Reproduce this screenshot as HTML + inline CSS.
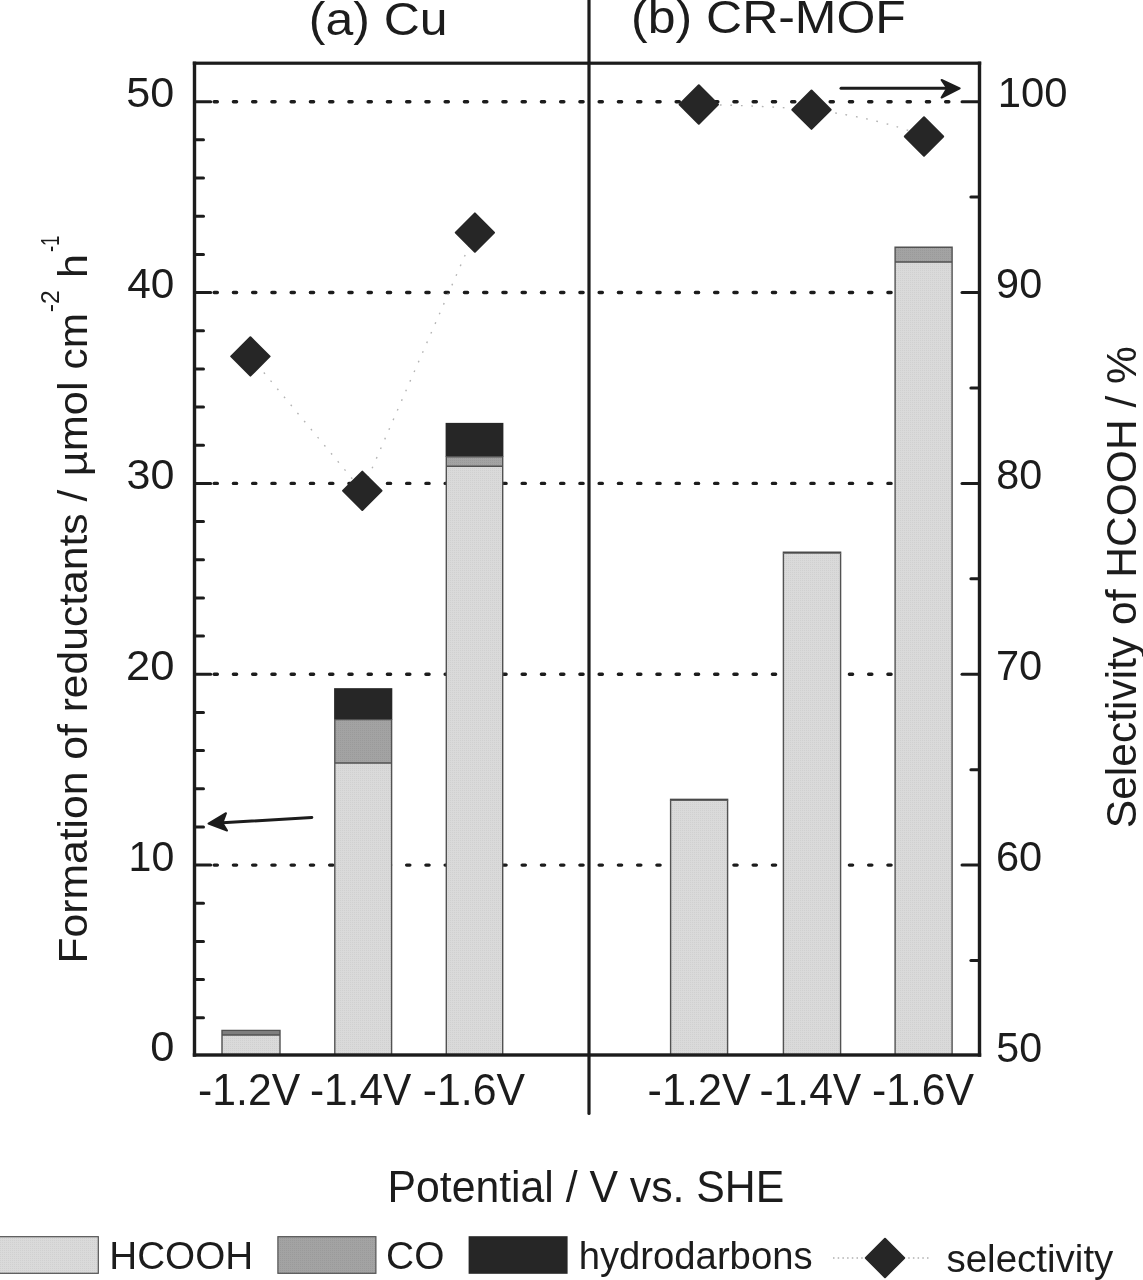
<!DOCTYPE html>
<html lang="en">
<head>
<meta charset="utf-8">
<title>Formation of reductants and selectivity of HCOOH: (a) Cu, (b) CR-MOF</title>
<style>
html,body{margin:0;padding:0;background:#fff;}
body{width:1143px;height:1280px;overflow:hidden;font-family:"Liberation Sans", Arial, Helvetica, sans-serif;}
svg{display:block;}
</style>
</head>
<body>
<svg width="1143" height="1280" viewBox="0 0 1143 1280">
<rect width="1143" height="1280" fill="#ffffff"/>
<defs>
<pattern id="pl" width="2" height="2" patternUnits="userSpaceOnUse"><rect width="2" height="2" fill="#dadada"/><rect width="1" height="1" fill="#d0d0d0"/></pattern>
<pattern id="pm" width="2" height="2" patternUnits="userSpaceOnUse"><rect width="2" height="2" fill="#a3a3a3"/><rect width="1" height="1" fill="#9a9a9a"/></pattern>
</defs>
<line x1="214.15" y1="865.10" x2="962.00" y2="865.10" stroke="#1c1c1c" stroke-width="3.4" stroke-linecap="round" stroke-dasharray="3.2 16.05"/>
<line x1="214.15" y1="674.25" x2="962.00" y2="674.25" stroke="#1c1c1c" stroke-width="3.4" stroke-linecap="round" stroke-dasharray="3.2 16.05"/>
<line x1="214.15" y1="483.40" x2="962.00" y2="483.40" stroke="#1c1c1c" stroke-width="3.4" stroke-linecap="round" stroke-dasharray="3.2 16.05"/>
<line x1="214.15" y1="292.55" x2="962.00" y2="292.55" stroke="#1c1c1c" stroke-width="3.4" stroke-linecap="round" stroke-dasharray="3.2 16.05"/>
<line x1="214.15" y1="101.70" x2="962.00" y2="101.70" stroke="#1c1c1c" stroke-width="3.4" stroke-linecap="round" stroke-dasharray="3.2 16.05"/>
<rect x="222.00" y="1034.96" width="58.00" height="20.99" fill="url(#pl)"/>
<rect x="222.00" y="1030.38" width="58.00" height="4.58" fill="#7e7e7e"/>
<path d="M222.00 1055.00 V1030.38 H280.00 V1055.00 M222.00 1034.96 H280.00" fill="none" stroke="#525252" stroke-width="1.4"/>
<rect x="334.80" y="763.00" width="56.80" height="292.95" fill="url(#pl)"/>
<rect x="334.80" y="719.67" width="56.80" height="43.32" fill="url(#pm)"/>
<rect x="334.10" y="688.16" width="58.20" height="31.51" fill="#262626"/>
<path d="M334.80 1055.00 V719.67 H391.60 V1055.00 M334.80 763.00 H391.60" fill="none" stroke="#525252" stroke-width="1.4"/>
<rect x="446.30" y="466.22" width="56.40" height="589.73" fill="url(#pl)"/>
<rect x="446.30" y="456.68" width="56.40" height="9.54" fill="url(#pm)"/>
<rect x="445.60" y="422.88" width="57.80" height="33.80" fill="#262626"/>
<path d="M446.30 1055.00 V456.68 H502.70 V1055.00 M446.30 466.22 H502.70" fill="none" stroke="#525252" stroke-width="1.4"/>
<rect x="670.60" y="800.59" width="57.00" height="255.36" fill="url(#pl)"/>
<rect x="669.90" y="798.66" width="58.40" height="2.2" fill="#4a4a4a"/>
<path d="M670.60 1055.00 V800.59 M727.60 800.59 V1055.00" fill="none" stroke="#525252" stroke-width="1.4"/>
<rect x="783.40" y="553.44" width="57.20" height="502.51" fill="url(#pl)"/>
<rect x="782.70" y="551.51" width="58.60" height="2.2" fill="#4a4a4a"/>
<path d="M783.40 1055.00 V553.44 M840.60 553.44 V1055.00" fill="none" stroke="#525252" stroke-width="1.4"/>
<rect x="895.10" y="262.01" width="57.00" height="793.94" fill="url(#pl)"/>
<rect x="895.10" y="247.32" width="57.00" height="14.70" fill="url(#pm)"/>
<path d="M895.10 1055.00 V247.32 H952.10 V1055.00 M895.10 262.01 H952.10" fill="none" stroke="#525252" stroke-width="1.4"/>
<polyline points="250.4,356.4 362.3,490.8 474.9,232.6" stroke="#b4b4b4" stroke-width="1.4" stroke-dasharray="1.7 8.8" fill="none"/>
<path d="M698.8 104.5 Q760 105.5 811.5 109.7 Q880 118 924 136.5" stroke="#b4b4b4" stroke-width="1.4" stroke-dasharray="1.7 8.8" fill="none"/>
<rect x="192.80" y="61.60" width="788.40" height="3.20" fill="#1c1c1c"/>
<rect x="192.80" y="1053.30" width="788.40" height="3.40" fill="#1c1c1c"/>
<rect x="192.80" y="61.60" width="3.40" height="995.10" fill="#1c1c1c"/>
<rect x="977.80" y="61.60" width="3.40" height="995.10" fill="#1c1c1c"/>
<line x1="589.00" y1="-2" x2="589.00" y2="1113.5" stroke="#1c1c1c" stroke-width="3.2" stroke-linecap="round"/>
<line x1="194.50" y1="1017.78" x2="203.50" y2="1017.78" stroke="#1c1c1c" stroke-width="3" stroke-linecap="round"/>
<line x1="194.50" y1="979.61" x2="203.50" y2="979.61" stroke="#1c1c1c" stroke-width="3" stroke-linecap="round"/>
<line x1="194.50" y1="941.44" x2="203.50" y2="941.44" stroke="#1c1c1c" stroke-width="3" stroke-linecap="round"/>
<line x1="194.50" y1="903.27" x2="203.50" y2="903.27" stroke="#1c1c1c" stroke-width="3" stroke-linecap="round"/>
<line x1="194.50" y1="865.10" x2="210.70" y2="865.10" stroke="#1c1c1c" stroke-width="3" stroke-linecap="round"/>
<line x1="194.50" y1="826.93" x2="203.50" y2="826.93" stroke="#1c1c1c" stroke-width="3" stroke-linecap="round"/>
<line x1="194.50" y1="788.76" x2="203.50" y2="788.76" stroke="#1c1c1c" stroke-width="3" stroke-linecap="round"/>
<line x1="194.50" y1="750.59" x2="203.50" y2="750.59" stroke="#1c1c1c" stroke-width="3" stroke-linecap="round"/>
<line x1="194.50" y1="712.42" x2="203.50" y2="712.42" stroke="#1c1c1c" stroke-width="3" stroke-linecap="round"/>
<line x1="194.50" y1="674.25" x2="210.70" y2="674.25" stroke="#1c1c1c" stroke-width="3" stroke-linecap="round"/>
<line x1="194.50" y1="636.08" x2="203.50" y2="636.08" stroke="#1c1c1c" stroke-width="3" stroke-linecap="round"/>
<line x1="194.50" y1="597.91" x2="203.50" y2="597.91" stroke="#1c1c1c" stroke-width="3" stroke-linecap="round"/>
<line x1="194.50" y1="559.74" x2="203.50" y2="559.74" stroke="#1c1c1c" stroke-width="3" stroke-linecap="round"/>
<line x1="194.50" y1="521.57" x2="203.50" y2="521.57" stroke="#1c1c1c" stroke-width="3" stroke-linecap="round"/>
<line x1="194.50" y1="483.40" x2="210.70" y2="483.40" stroke="#1c1c1c" stroke-width="3" stroke-linecap="round"/>
<line x1="194.50" y1="445.23" x2="203.50" y2="445.23" stroke="#1c1c1c" stroke-width="3" stroke-linecap="round"/>
<line x1="194.50" y1="407.06" x2="203.50" y2="407.06" stroke="#1c1c1c" stroke-width="3" stroke-linecap="round"/>
<line x1="194.50" y1="368.89" x2="203.50" y2="368.89" stroke="#1c1c1c" stroke-width="3" stroke-linecap="round"/>
<line x1="194.50" y1="330.72" x2="203.50" y2="330.72" stroke="#1c1c1c" stroke-width="3" stroke-linecap="round"/>
<line x1="194.50" y1="292.55" x2="210.70" y2="292.55" stroke="#1c1c1c" stroke-width="3" stroke-linecap="round"/>
<line x1="194.50" y1="254.38" x2="203.50" y2="254.38" stroke="#1c1c1c" stroke-width="3" stroke-linecap="round"/>
<line x1="194.50" y1="216.21" x2="203.50" y2="216.21" stroke="#1c1c1c" stroke-width="3" stroke-linecap="round"/>
<line x1="194.50" y1="178.04" x2="203.50" y2="178.04" stroke="#1c1c1c" stroke-width="3" stroke-linecap="round"/>
<line x1="194.50" y1="139.87" x2="203.50" y2="139.87" stroke="#1c1c1c" stroke-width="3" stroke-linecap="round"/>
<line x1="194.50" y1="101.70" x2="210.70" y2="101.70" stroke="#1c1c1c" stroke-width="3" stroke-linecap="round"/>
<line x1="979.50" y1="960.53" x2="970.90" y2="960.53" stroke="#1c1c1c" stroke-width="3" stroke-linecap="round"/>
<line x1="979.50" y1="865.10" x2="962.00" y2="865.10" stroke="#1c1c1c" stroke-width="3" stroke-linecap="round"/>
<line x1="979.50" y1="769.68" x2="970.90" y2="769.68" stroke="#1c1c1c" stroke-width="3" stroke-linecap="round"/>
<line x1="979.50" y1="674.25" x2="962.00" y2="674.25" stroke="#1c1c1c" stroke-width="3" stroke-linecap="round"/>
<line x1="979.50" y1="578.83" x2="970.90" y2="578.83" stroke="#1c1c1c" stroke-width="3" stroke-linecap="round"/>
<line x1="979.50" y1="483.40" x2="962.00" y2="483.40" stroke="#1c1c1c" stroke-width="3" stroke-linecap="round"/>
<line x1="979.50" y1="387.98" x2="970.90" y2="387.98" stroke="#1c1c1c" stroke-width="3" stroke-linecap="round"/>
<line x1="979.50" y1="292.55" x2="962.00" y2="292.55" stroke="#1c1c1c" stroke-width="3" stroke-linecap="round"/>
<line x1="979.50" y1="197.12" x2="970.90" y2="197.12" stroke="#1c1c1c" stroke-width="3" stroke-linecap="round"/>
<line x1="979.50" y1="101.70" x2="962.00" y2="101.70" stroke="#1c1c1c" stroke-width="3" stroke-linecap="round"/>
<line x1="833" y1="1258" x2="929.5" y2="1258" stroke="#b0b0b0" stroke-width="1.3" stroke-dasharray="1.5 3.2"/>
<path d="M250.40 337.20 L269.60 356.40 L250.40 375.60 L231.20 356.40Z" fill="#262626" stroke="#262626" stroke-width="2" stroke-linejoin="round"/>
<path d="M362.30 471.60 L381.50 490.80 L362.30 510.00 L343.10 490.80Z" fill="#262626" stroke="#262626" stroke-width="2" stroke-linejoin="round"/>
<path d="M474.90 213.40 L494.10 232.60 L474.90 251.80 L455.70 232.60Z" fill="#262626" stroke="#262626" stroke-width="2" stroke-linejoin="round"/>
<path d="M698.80 85.30 L718.00 104.50 L698.80 123.70 L679.60 104.50Z" fill="#262626" stroke="#262626" stroke-width="2" stroke-linejoin="round"/>
<path d="M811.50 90.50 L830.70 109.70 L811.50 128.90 L792.30 109.70Z" fill="#262626" stroke="#262626" stroke-width="2" stroke-linejoin="round"/>
<path d="M924.00 117.30 L943.20 136.50 L924.00 155.70 L904.80 136.50Z" fill="#262626" stroke="#262626" stroke-width="2" stroke-linejoin="round"/>
<path d="M885.00 1238.80 L904.20 1258.00 L885.00 1277.20 L865.80 1258.00Z" fill="#262626" stroke="#262626" stroke-width="2" stroke-linejoin="round"/>
<g stroke="#1c1c1c" stroke-width="3" fill="#1c1c1c" stroke-linecap="round" stroke-linejoin="round">
<line x1="841" y1="88.3" x2="955" y2="88.3"/>
<path d="M959.7 88.3 L941.6 80.0 L947.2 88.3 L941.6 97.6Z" stroke-width="2"/>
<line x1="311.8" y1="817.4" x2="214" y2="823.3"/>
<path d="M208.5 823.6 L226.0 813.2 L222.4 822.9 L227.0 830.6Z" stroke-width="2"/>
</g>
<rect x="-1" y="1236.7" width="99.3" height="36.6" fill="url(#pl)" stroke="#525252" stroke-width="1.2"/>
<rect x="277.9" y="1236.7" width="98" height="36.6" fill="url(#pm)" stroke="#525252" stroke-width="1.2"/>
<rect x="468.6" y="1236.2" width="99" height="37.6" fill="#262626"/>
<g font-family='"Liberation Sans", Arial, Helvetica, sans-serif'>
<text transform="matrix(1.0630 0 0 1 308.80 34.80)" font-size="47.00" fill="#1c1c1c">(a) Cu</text>
<text transform="matrix(1.0636 0 0 1 631.10 32.90)" font-size="47.00" fill="#1c1c1c">(b) CR-MOF</text>
<text transform="matrix(1.0146 0 0 1 150.21 1061.45)" font-size="42.80" fill="#1c1c1c">0</text>
<text transform="matrix(0.9599 0 0 1 128.58 870.60)" font-size="42.80" fill="#1c1c1c">10</text>
<text transform="matrix(1.0176 0 0 1 125.92 679.75)" font-size="42.80" fill="#1c1c1c">20</text>
<text transform="matrix(1.0058 0 0 1 126.46 488.90)" font-size="42.80" fill="#1c1c1c">30</text>
<text transform="matrix(0.9905 0 0 1 127.17 298.05)" font-size="42.80" fill="#1c1c1c">40</text>
<text transform="matrix(1.0078 0 0 1 126.37 107.20)" font-size="42.80" fill="#1c1c1c">50</text>
<text transform="matrix(0.9626 0 0 1 996.35 1061.65)" font-size="42.80" fill="#1c1c1c">50</text>
<text transform="matrix(0.9720 0 0 1 995.92 870.80)" font-size="42.80" fill="#1c1c1c">60</text>
<text transform="matrix(0.9729 0 0 1 995.88 679.95)" font-size="42.80" fill="#1c1c1c">70</text>
<text transform="matrix(0.9654 0 0 1 996.22 489.10)" font-size="42.80" fill="#1c1c1c">80</text>
<text transform="matrix(0.9682 0 0 1 996.09 298.25)" font-size="42.80" fill="#1c1c1c">90</text>
<text transform="matrix(0.9773 0 0 1 997.82 107.40)" font-size="42.80" fill="#1c1c1c">100</text>
<text transform="matrix(0.9816 0 0 1 198.12 1104.80)" font-size="43.50" fill="#1c1c1c">-1.2V</text>
<text transform="matrix(0.9747 0 0 1 309.93 1104.80)" font-size="43.50" fill="#1c1c1c">-1.4V</text>
<text transform="matrix(0.9835 0 0 1 422.72 1104.80)" font-size="43.50" fill="#1c1c1c">-1.6V</text>
<text transform="matrix(0.9914 0 0 1 647.60 1104.80)" font-size="43.50" fill="#1c1c1c">-1.2V</text>
<text transform="matrix(0.9796 0 0 1 759.43 1104.80)" font-size="43.50" fill="#1c1c1c">-1.4V</text>
<text transform="matrix(0.9826 0 0 1 871.92 1104.80)" font-size="43.50" fill="#1c1c1c">-1.6V</text>
<text transform="matrix(0.9763 0 0 1 387.49 1201.50)" font-size="43.80" fill="#1c1c1c">Potential / V vs. SHE</text>
<text transform="matrix(0.9957 0 0 1 109.33 1269.20)" font-size="38.80" fill="#1c1c1c">HCOOH</text>
<text transform="matrix(1.0019 0 0 1 386.06 1269.20)" font-size="38.80" fill="#1c1c1c">CO</text>
<text transform="matrix(0.9863 0 0 1 578.66 1269.20)" font-size="38.80" fill="#1c1c1c">hydrodarbons</text>
<text transform="matrix(0.9926 0 0 1 946.46 1271.50)" font-size="38.80" fill="#1c1c1c">selectivity</text>
<text transform="matrix(0 -1.0225 1 0 1135.50 828.21)" font-size="41.60" fill="#1c1c1c">Selectivity of HCOOH / %</text>
<text transform="matrix(0 -1.0275 1 0 87.10 963.50)" font-size="41.50" fill="#1c1c1c">Formation of reductants /</text>
<text transform="matrix(0 -1.0470 1 0 87.10 476.35)" font-size="41.50" fill="#1c1c1c">µmol</text>
<text transform="matrix(0 -1.0201 1 0 87.10 369.38)" font-size="41.50" fill="#1c1c1c">cm</text>
<text transform="matrix(0 -0.9767 1 0 59.20 312.30)" font-size="25.50" fill="#1c1c1c">-2</text>
<text transform="matrix(0 -1.0368 1 0 87.10 277.97)" font-size="41.50" fill="#1c1c1c">h</text>
<text transform="matrix(0 -0.7331 1 0 59.20 252.12)" font-size="25.50" fill="#1c1c1c">-1</text>
</g>
</svg>
</body>
</html>
